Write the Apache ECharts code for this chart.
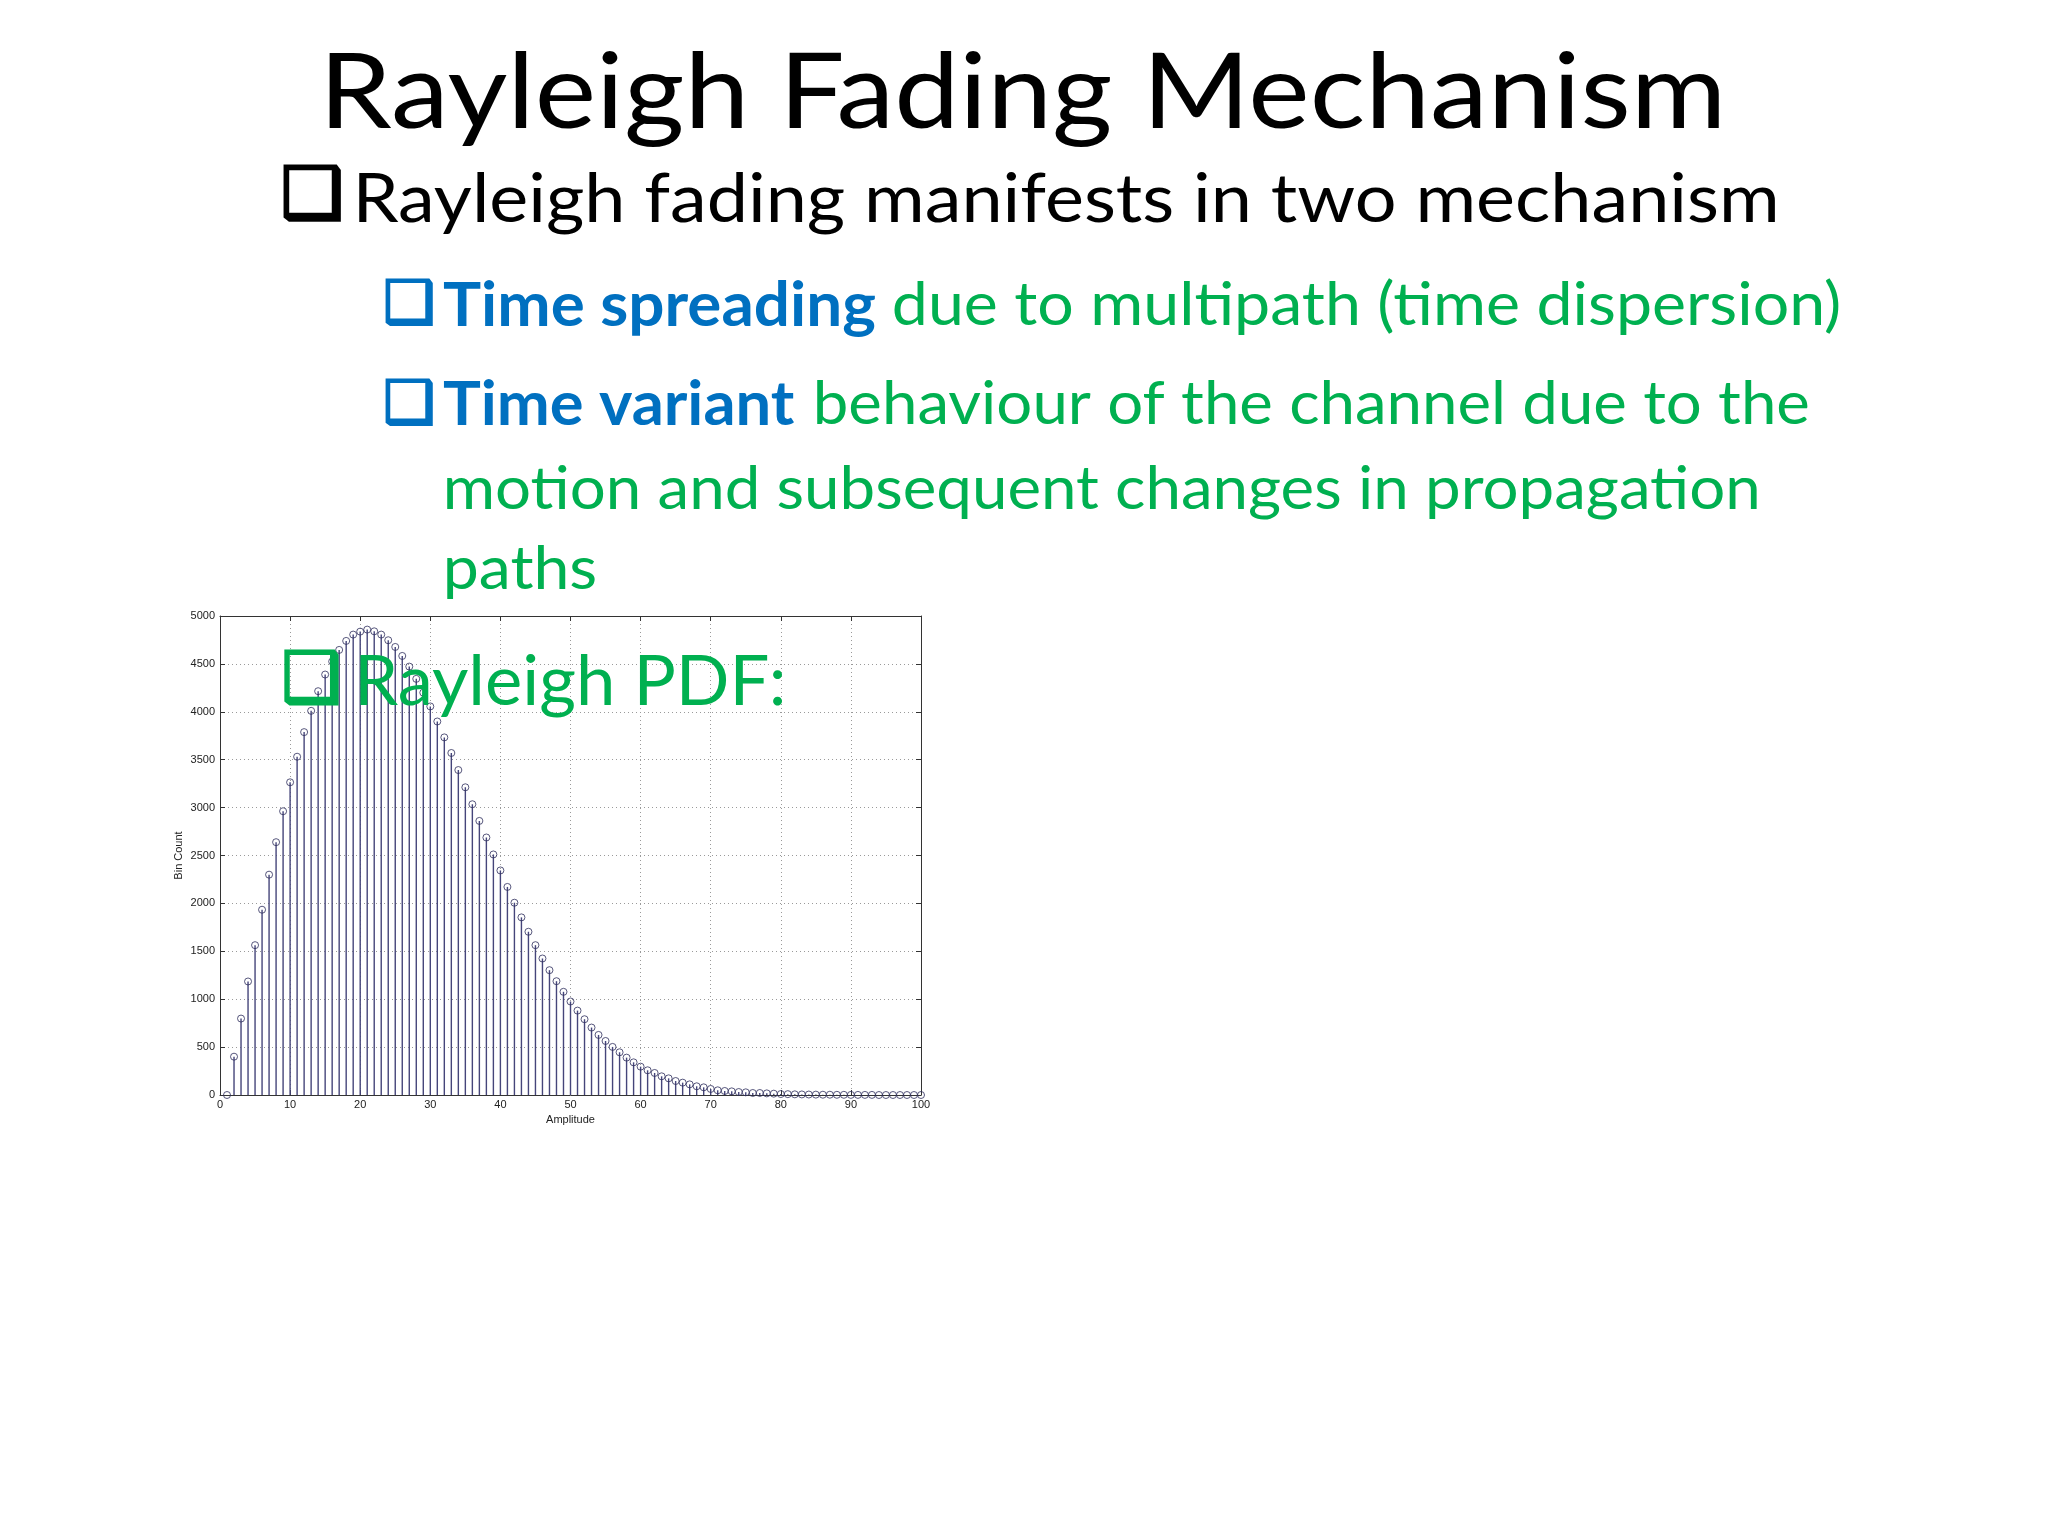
<!DOCTYPE html>
<html>
<head>
<meta charset="utf-8">
<script src="https://cdn.jsdelivr.net/npm/echarts@6/dist/echarts.min.js"></script>
<style>
html,body{margin:0;padding:0;background:#ffffff;}
#chart{width:2048px;height:1536px;}
</style>
</head>
<body>
<div id="chart"></div>
<script>
// ---------- data ----------
const amplitudeBins = [1,2,3,4,5,6,7,8,9,10,11,12,13,14,15,16,17,18,19,20,
  21,22,23,24,25,26,27,28,29,30,31,32,33,34,35,36,37,38,39,40,
  41,42,43,44,45,46,47,48,49,50,51,52,53,54,55,56,57,58,59,60,
  61,62,63,64,65,66,67,68,69,70,71,72,73,74,75,76,77,78,79,80,
  81,82,83,84,85,86,87,88,89,90,91,92,93,94,95,96,97,98,99,100];
const binCounts = [0,400,798,1185,1564,1934,2300,2639,2962,3264,
  3531,3788,4010,4215,4389,4525,4646,4740,4806,4837,
  4858,4840,4806,4747,4677,4583,4472,4344,4200,4056,
  3899,3733,3570,3392,3212,3035,2861,2688,2511,2344,
  2172,2007,1854,1704,1564,1425,1303,1188,1077,976,
  881,791,704,627,564,502,446,390,341,296,
  258,230,195,174,146,129,111,91,80,63,
  49,42,38,31,28,21,21,17,14,10,
  9,7,6,5,4,3,3,2,2,1,
  1,1,1,0,0,0,0,0,0,0];
const xAxisTitle = 'Amplitude';
const yAxisTitle = 'Bin Count';
const slideTitle = 'Rayleigh Fading Mechanism';
const bulletMain = 'Rayleigh fading manifests in two mechanism';
const sub1Bold = 'Time spreading';
const sub1Rest = 'due to multipath (time dispersion)';
const sub2Bold = 'Time variant';
const sub2Rest = 'behaviour of the channel due to the';
const sub2Line2 = 'motion and subsequent changes in propagation';
const sub2Line3 = 'paths';
const bulletPdf = 'Rayleigh PDF:';
const bulletGlyph = '\u2751';

// ---------- text fitting helpers ----------
const ctx = document.createElement('canvas').getContext('2d');
const TEXT_FONT = 'Lato';
function fontStr(weight, size, family){ return weight + ' ' + size.toFixed(2) + 'px "' + family + '"'; }
function fitText(txt, weight, color, L, R, baseline, cap){
  ctx.textBaseline = 'alphabetic';
  ctx.font = fontStr(weight, 100, TEXT_FONT);
  const capPer100 = ctx.measureText('H').actualBoundingBoxAscent;
  const fs = cap / capPer100 * 100;
  const f = fontStr(weight, fs, TEXT_FONT);
  ctx.font = f;
  ctx.textBaseline = 'middle';
  const ascMid = ctx.measureText('H').actualBoundingBoxAscent;
  const m = ctx.measureText(txt);
  const inkW = m.actualBoundingBoxLeft + m.actualBoundingBoxRight;
  return {type:'text', x:L, y: baseline - cap + ascMid, scaleX:(R-L)/inkW, scaleY:1, z:100,
    style:{text:txt, x:m.actualBoundingBoxLeft, y:0, font:f, fill:color, align:'left', verticalAlign:'middle'}};
}
function fitGlyph(ch, color, L, R, T, B){
  const f = fontStr('normal', 100, 'DejaVu Sans');
  ctx.font = f; ctx.textBaseline = 'middle';
  const m = ctx.measureText(ch);
  const w = m.actualBoundingBoxLeft + m.actualBoundingBoxRight;
  const h = m.actualBoundingBoxAscent + m.actualBoundingBoxDescent;
  const sw = 4; // thicken outline like the Wingdings bullet
  return {type:'text', x:L + 1.2, y:T + 1.2, scaleX:(R-L-2.4)/w, scaleY:(B-T-2.4)/h, z:100,
    style:{text:ch, x:m.actualBoundingBoxLeft, y:m.actualBoundingBoxAscent, font:f, fill:color,
           stroke:color, lineWidth:sw, align:'left', verticalAlign:'middle'}};
}

const BLACK = '#000000', BLUE = '#0070C0', GREEN = '#00B050';
const graphics = [
  fitText(slideTitle, 'normal', BLACK, 329, 1719, 129, 77),
  fitGlyph(bulletGlyph, BLACK, 283, 341, 165, 222),
  fitText(bulletMain, 'normal', BLACK, 359, 1775, 222, 49),
  fitGlyph(bulletGlyph, BLUE, 385, 433, 278, 326),
  fitText(sub1Bold, 'bold', BLUE, 443, 875, 326, 44),
  fitText(sub1Rest, 'normal', GREEN, 894, 1839, 326, 44),
  fitGlyph(bulletGlyph, BLUE, 385, 433, 378, 426),
  fitText(sub2Bold, 'bold', BLUE, 443, 795, 425, 44),
  fitText(sub2Rest, 'normal', GREEN, 817, 1808, 425, 44),
  fitText(sub2Line2, 'normal', GREEN, 447, 1757, 510, 44),
  fitText(sub2Line3, 'normal', GREEN, 447, 595, 590, 44),
  fitGlyph(bulletGlyph, GREEN, 284, 339, 650, 706),
  fitText(bulletPdf, 'normal', GREEN, 360, 783, 706, 51)
];

// ---------- chart ----------
const stemData = amplitudeBins.map((a, i) => [a, binCounts[i]]);
const AX = '#333333';
const labelFont = {fontFamily:'Liberation Sans', fontSize:11, color:'#222222'};
const plainNum = v => String(v);
const chart = echarts.init(document.getElementById('chart'), null, {renderer:'canvas'});
chart.setOption({
  animation:false,
  backgroundColor:'#ffffff',
  grid:{left:220, top:616, width:701, height:479, containLabel:false},
  xAxis:[
    {type:'value', min:0, max:100, interval:10, position:'bottom',
     name:xAxisTitle, nameLocation:'middle', nameGap:19,
     nameTextStyle:labelFont,
     axisLine:{show:true, onZero:false, lineStyle:{color:AX, width:1}},
     axisTick:{show:true, inside:true, length:5, lineStyle:{color:AX}},
     axisLabel:Object.assign({margin:4, formatter:plainNum}, labelFont),
     splitLine:{show:true, lineStyle:{type:[1,3], color:'#9a9a9a', width:1}}},
    {type:'value', min:0, max:100, interval:10, position:'top',
     axisLine:{show:true, onZero:false, lineStyle:{color:AX, width:1}},
     axisTick:{show:true, inside:true, length:5, lineStyle:{color:AX}},
     axisLabel:{show:false}, splitLine:{show:false}}
  ],
  yAxis:[
    {type:'value', min:0, max:5000, interval:500, position:'left',
     name:yAxisTitle, nameLocation:'middle', nameGap:36,
     nameTextStyle:labelFont,
     axisLine:{show:true, onZero:false, lineStyle:{color:AX, width:1}},
     axisTick:{show:true, inside:true, length:5, lineStyle:{color:AX}},
     axisLabel:Object.assign({margin:5, formatter:plainNum}, labelFont),
     splitLine:{show:true, lineStyle:{type:[1,3], color:'#9a9a9a', width:1}}},
    {type:'value', min:0, max:5000, interval:500, position:'right',
     axisLine:{show:true, onZero:false, lineStyle:{color:AX, width:1}},
     axisTick:{show:true, inside:true, length:5, lineStyle:{color:AX}},
     axisLabel:{show:false}, splitLine:{show:false}}
  ],
  series:[
    {type:'bar', xAxisIndex:0, yAxisIndex:0, data:stemData, barWidth:1.4,
     itemStyle:{color:'#45457a'}, silent:true},
    {type:'scatter', xAxisIndex:0, yAxisIndex:0, data:stemData, symbol:'circle', symbolSize:7,
     itemStyle:{color:'rgba(0,0,0,0)', borderColor:'#2e2e5c', borderWidth:1}, silent:true, z:3}
  ],
  graphic:{elements:graphics}
});
</script>
</body>
</html>
